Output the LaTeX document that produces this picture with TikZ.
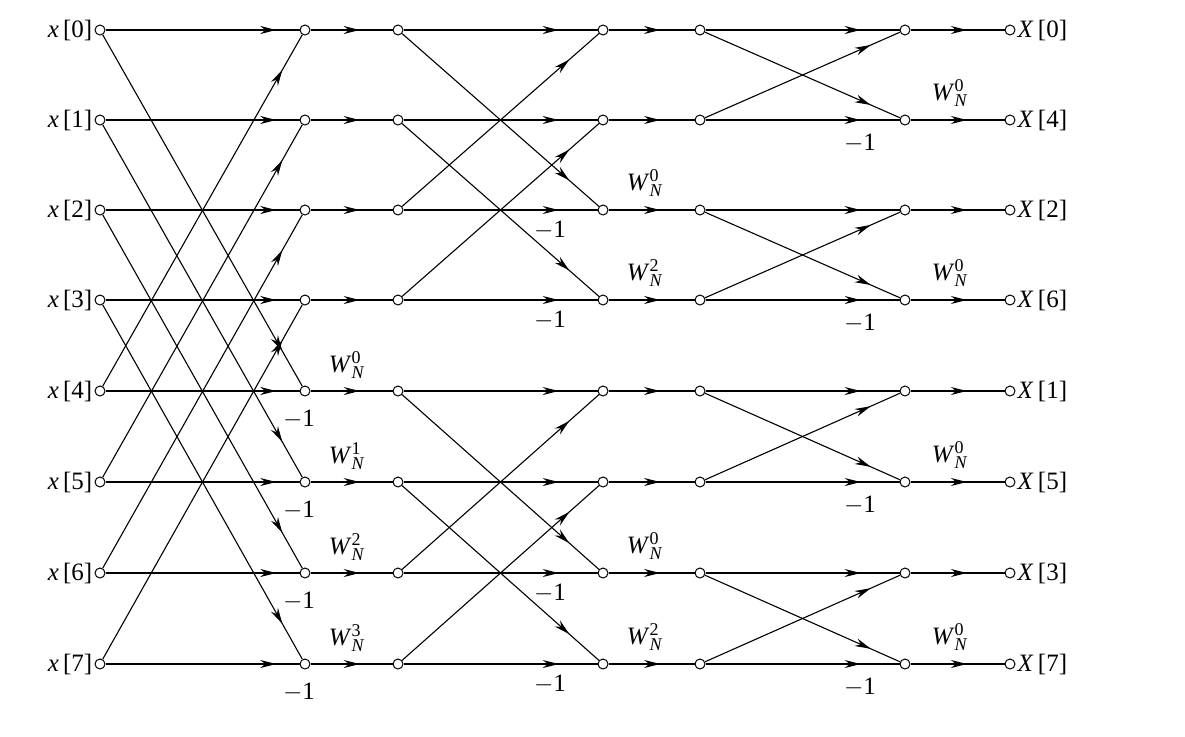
\documentclass[tikz,border=0pt]{standalone}
\usepackage{fontspec}
\setmainfont{Liberation Serif}
\usetikzlibrary{arrows.meta,decorations.markings}
\newcommand{\tw}[1]{\textit{W}$^{\mbox{\fontsize{18}{18}\selectfont #1}}_{\mbox{\fontsize{18}{18}\selectfont\textit{N}}}$}
\begin{document}
\begin{tikzpicture}[x=1pt,y=-1pt,font=\fontsize{25}{27}\selectfont,
  pt/.style={circle,draw,inner sep=0pt,minimum size=10pt,line width=1pt},
  ar/.style={line width=1.1pt,postaction={decorate},decoration={markings,mark=at position #1 with {\arrow{Stealth[length=16pt,width=8pt]}}}},
  ar/.default=0.85]
\useasboundingbox (0,0) rectangle (1185,736);
\foreach \r/\y in {0/30,1/120,2/210,3/300,4/391,5/482,6/573,7/664}{
  \foreach \c/\x in {0/100,1/305,2/398,3/603,4/700,5/905,6/1010}{
    \node[pt] (n\c-\r) at (\x,\y) {};
  }
}
\foreach \r in {0,...,7}{\node[anchor=east,inner sep=2pt] (in\r) at (n0-\r.west) {\textit{x}\,[\r]};}
\foreach \r/\k in {0/0,1/4,2/2,3/6,4/1,5/5,6/3,7/7}{\node[anchor=west,inner sep=2pt] (out\r) at (n6-\r.east) {\textit{X}\,[\k]};}
\foreach \r in {0,...,7}{
  \draw[ar=0.88] (n0-\r) -- (n1-\r);
  \draw[ar=0.6] (n1-\r) -- (n2-\r);
  \draw[ar=0.8] (n2-\r) -- (n3-\r);
  \draw[ar=0.6] (n3-\r) -- (n4-\r);
  \draw[ar=0.8] (n4-\r) -- (n5-\r);
  \draw[ar=0.6] (n5-\r) -- (n6-\r);
}
\foreach \r in {0,...,3}{
  \pgfmathtruncatemacro\s{\r+4}
  \draw[ar=0.9] (n0-\r) -- (n1-\s);
  \draw[ar=0.9] (n0-\s) -- (n1-\r);
}
\foreach \r in {0,1,4,5}{
  \pgfmathtruncatemacro\s{\r+2}
  \draw[ar=0.85] (n2-\r) -- (n3-\s);
  \draw[ar=0.85] (n2-\s) -- (n3-\r);
}
\foreach \r in {0,2,4,6}{
  \pgfmathtruncatemacro\s{\r+1}
  \draw[ar=0.85] (n4-\r) -- (n5-\s);
  \draw[ar=0.85] (n4-\s) -- (n5-\r);
}
\foreach \r/\k in {4/0,5/1,6/2,7/3}{
  \node (w1-\r) at ([shift={(42,-26)}]n1-\r) {\tw{\k}};
  \node (m1-\r) at ([shift={(-6,28)}]n1-\r) {$-$1};
}
\foreach \r/\k in {2/0,3/2,6/0,7/2}{
  \node (w2-\r) at ([shift={(42,-27)}]n3-\r) {\tw{\k}};
  \node (m2-\r) at ([shift={(-53,20)}]n3-\r) {$-$1};
}
\foreach \r in {1,3,5,7}{
  \node (w3-\r) at ([shift={(45,-27)}]n5-\r) {\tw{0}};
  \node (m3-\r) at ([shift={(-45,23)}]n5-\r) {$-$1};
}
\end{tikzpicture}
\end{document}
